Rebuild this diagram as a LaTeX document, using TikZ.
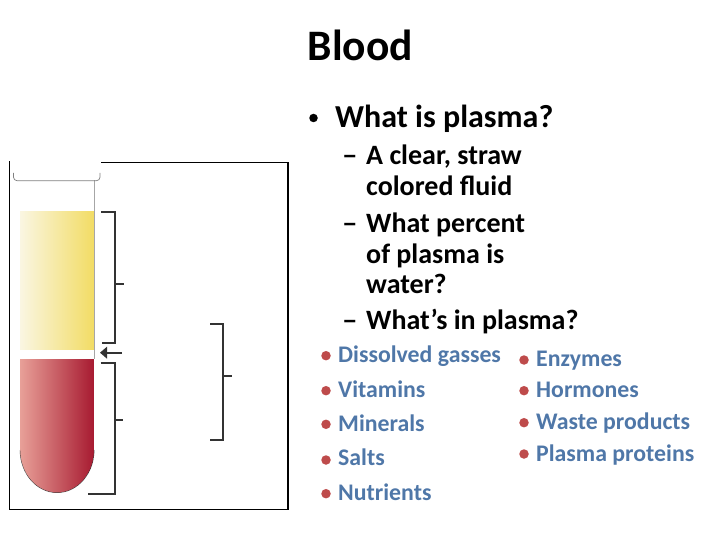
\documentclass[tikz,border=0pt]{standalone}
\usepackage{fontspec}
\setmainfont{Carlito}
\definecolor{itemblue}{HTML}{4F77A8}
\definecolor{dotred}{HTML}{BE4B4B}
\definecolor{brk}{HTML}{333333}
\definecolor{yel1}{HTML}{FAF6E2}
\definecolor{yel2}{HTML}{F2DC64}
\definecolor{red1}{HTML}{E8A098}
\definecolor{red2}{HTML}{A81C32}
\newcommand{\dashlead}{\makebox[24pt][l]{\resizebox{15.5pt}{\height}{–}}}
\tikzset{
  head/.style={anchor=base west,inner sep=0pt,font=\fontsize{43.5}{43.5}\selectfont\bfseries,text=black},
  lone/.style={anchor=base west,inner sep=0pt,font=\fontsize{32}{32}\selectfont\bfseries,text=black},
  ltwo/.style={anchor=base west,inner sep=0pt,font=\fontsize{28}{28}\selectfont\bfseries,text=black},
  item/.style={anchor=base west,inner sep=0pt,font=\fontsize{23.8}{23.8}\selectfont\bfseries,text=itemblue},
  dot/.style={circle,fill=dotred,draw=none,inner sep=0pt,minimum size=9.5pt},
  bigdot/.style={circle,fill=black,draw=none,inner sep=0pt,minimum size=8.5pt},
  bracket/.style={draw=brk,line width=2pt},
}
\begin{document}
\begin{tikzpicture}[x=1pt,y=-1pt]
\useasboundingbox (0,0) rectangle (720,540);
% frame
\draw[black,line width=1.1pt] (101,162.3) -- (288,162.3) -- (288,509.3) -- (9.5,509.3) -- (9.5,161);
% tube contents
\shade[left color=yel1,right color=yel2] (20,211.5) rectangle (94,349);
\foreach \i in {0,...,73}{
  \pgfmathsetmacro{\mixv}{100-100*\i/73}
  \pgfmathsetmacro{\xa}{20+\i}
  \pgfmathsetmacro{\xb}{\xa+1.2}
  \pgfmathsetmacro{\yb}{450+42.7*sqrt(max(0,1-((\xa+0.5-57.1)/37.1)^2))}
  \fill[red1!\mixv!red2] (\xa,358.7) rectangle (\xb,\yb);
}
\draw[gray!50!black,line width=0.4pt] (94.2,450) arc[start angle=0,end angle=180,x radius=37.1,y radius=42.7];
% tube glass
\draw[gray!70,line width=0.9pt] (94.5,180.5) -- (94.5,358.7);
\draw[gray,line width=0.7pt,rounded corners=3.5pt] (13.5,173) -- (13.5,180.7) -- (100,180.7) -- (100,173);
% brackets
\draw[bracket] (101,211.7) -- (115,211.7) -- (115,342.7) -- (102,342.7);
\draw[bracket] (115,284) -- (124,284);
\draw[bracket] (100.5,362.7) -- (115,362.7) -- (115,493.7) -- (87.7,493.7);
\draw[bracket] (115,419.7) -- (123,419.7);
\draw[bracket] (210,324.3) -- (222.7,324.3) -- (222.7,440) -- (210,440);
\draw[bracket] (222.7,376) -- (232,376);
% arrow
\coordinate (arrS) at (122,352.7);
\coordinate (arrE) at (100,352.7);
\draw[brk,line width=1.7pt] (arrS) -- (106,352.7);
\fill[brk] (arrE) -- (107,346.7) -- (107,358.7) -- cycle;
% text
\node[head] (title) at (307.5,60.5) {Blood};
\node[bigdot] (b0) at (313.5,118) {};
\node[lone] (q1) at (335,128) {What is plasma?};
\node[ltwo] (a1) at (342,164.5) {\dashlead A clear, straw};
\node[ltwo] (a2) at (366,195.5) {colored fluid};
\node[ltwo] (a3) at (342,232.5) {\dashlead What percent};
\node[ltwo] (a4) at (366,263) {of plasma is};
\node[ltwo] (a5) at (366,293.5) {water?};
\node[ltwo] (a6) at (342,329.5) {\dashlead What’s in plasma?};
% left list
\node[dot] (d1) at (326,355.7) {};
\node[item] (i1) at (338,362) {Dissolved gasses};
\node[dot] (d2) at (326,390.7) {};
\node[item] (i2) at (338,397) {Vitamins};
\node[dot] (d3) at (326,424.3) {};
\node[item] (i3) at (338,431) {Minerals};
\node[dot] (d4) at (326,460) {};
\node[item] (i4) at (338,465.5) {Salts};
\node[dot] (d5) at (326,493.7) {};
\node[item] (i5) at (338,500) {Nutrients};
% right list
\node[dot] (e1) at (524,360) {};
\node[item] (j1) at (536,366) {Enzymes};
\node[dot] (e2) at (524,390.7) {};
\node[item] (j2) at (536,397) {Hormones};
\node[dot] (e3) at (524,422.7) {};
\node[item] (j3) at (536,429) {Waste products};
\node[dot] (e4) at (524,454) {};
\node[item] (j4) at (536,461) {Plasma proteins};
\end{tikzpicture}
\end{document}
